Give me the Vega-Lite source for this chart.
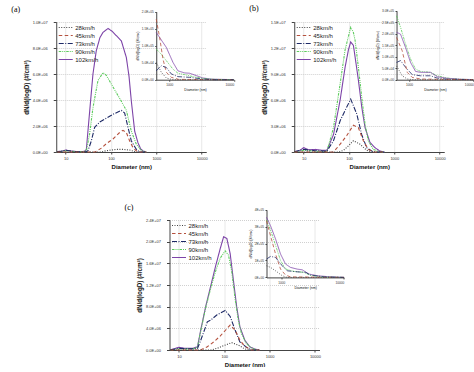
{
"$schema":"https://vega.github.io/schema/vega-lite/v6.json",
"padding":{"left":11,"top":4,"right":0,"bottom":0},
"background":"white",
"config":{"view":{"stroke":null},"axis":{"labelFont":"Liberation Sans","titleFont":"Liberation Sans","labelColor":"#333","titleColor":"#111","domainColor":"#444","tickColor":"#444"},"legend":{"labelFont":"Liberation Sans"}},
"datasets":{
"a_main":[
{"s":"102km/h","d":6.5,"v":30000},{"s":"102km/h","d":8,"v":60000},{"s":"102km/h","d":10,"v":150000},{"s":"102km/h","d":12,"v":100000},{"s":"102km/h","d":15,"v":50000},{"s":"102km/h","d":20,"v":30000},{"s":"102km/h","d":26,"v":50000},{"s":"102km/h","d":28.6,"v":200000},{"s":"102km/h","d":33.8,"v":3100000},{"s":"102km/h","d":40,"v":6000000},{"s":"102km/h","d":47.4,"v":7800000},{"s":"102km/h","d":57,"v":8800000},{"s":"102km/h","d":66.6,"v":9200000},{"s":"102km/h","d":85.9,"v":9500000},{"s":"102km/h","d":105,"v":9300000},{"s":"102km/h","d":131,"v":8950000},{"s":"102km/h","d":169,"v":8550000},{"s":"102km/h","d":218,"v":7270000},{"s":"102km/h","d":250,"v":5800000},{"s":"102km/h","d":281,"v":3900000},{"s":"102km/h","d":333,"v":1600000},{"s":"102km/h","d":394,"v":700000},{"s":"102km/h","d":450,"v":250000},{"s":"102km/h","d":508,"v":80000},{"s":"102km/h","d":600,"v":0},
{"s":"90km/h","d":6.5,"v":20000},{"s":"90km/h","d":10,"v":100000},{"s":"90km/h","d":15,"v":40000},{"s":"90km/h","d":25,"v":20000},{"s":"90km/h","d":28.6,"v":100000},{"s":"90km/h","d":33.8,"v":1400000},{"s":"90km/h","d":40,"v":3400000},{"s":"90km/h","d":51.6,"v":5500000},{"s":"90km/h","d":66.6,"v":6100000},{"s":"90km/h","d":78.8,"v":5900000},{"s":"90km/h","d":110.7,"v":5000000},{"s":"90km/h","d":169,"v":3900000},{"s":"90km/h","d":218,"v":3200000},{"s":"90km/h","d":281,"v":1600000},{"s":"90km/h","d":362,"v":600000},{"s":"90km/h","d":467,"v":100000},{"s":"90km/h","d":600,"v":0},
{"s":"73km/h","d":6.5,"v":30000},{"s":"73km/h","d":8,"v":60000},{"s":"73km/h","d":10,"v":140000},{"s":"73km/h","d":12,"v":100000},{"s":"73km/h","d":15,"v":50000},{"s":"73km/h","d":20,"v":20000},{"s":"73km/h","d":28,"v":20000},{"s":"73km/h","d":31.1,"v":100000},{"s":"73km/h","d":36.8,"v":850000},{"s":"73km/h","d":43.6,"v":1900000},{"s":"73km/h","d":56.3,"v":2300000},{"s":"73km/h","d":78.8,"v":2600000},{"s":"73km/h","d":110.7,"v":2900000},{"s":"73km/h","d":169,"v":3200000},{"s":"73km/h","d":200,"v":3000000},{"s":"73km/h","d":237,"v":1900000},{"s":"73km/h","d":281,"v":850000},{"s":"73km/h","d":362,"v":200000},{"s":"73km/h","d":430,"v":0},{"s":"73km/h","d":600,"v":0},
{"s":"45km/h","d":6.5,"v":0},{"s":"45km/h","d":45,"v":0},{"s":"45km/h","d":61.2,"v":300000},{"s":"45km/h","d":78.8,"v":640000},{"s":"45km/h","d":110.7,"v":1000000},{"s":"45km/h","d":155,"v":1500000},{"s":"45km/h","d":184,"v":1670000},{"s":"45km/h","d":218,"v":1500000},{"s":"45km/h","d":258,"v":850000},{"s":"45km/h","d":306,"v":330000},{"s":"45km/h","d":385,"v":0},{"s":"45km/h","d":600,"v":0},
{"s":"28km/h","d":6.5,"v":0},{"s":"28km/h","d":60,"v":0},{"s":"28km/h","d":78.8,"v":100000},{"s":"28km/h","d":131,"v":200000},{"s":"28km/h","d":184,"v":200000},{"s":"28km/h","d":258,"v":150000},{"s":"28km/h","d":362,"v":0},{"s":"28km/h","d":600,"v":0}
],
"a_inset":[
{"s":"102km/h","d":630,"v":139000},{"s":"102km/h","d":902,"v":95000},{"s":"102km/h","d":1143,"v":51000},{"s":"102km/h","d":1365,"v":26000},{"s":"102km/h","d":1733,"v":20000},{"s":"102km/h","d":2071,"v":19000},{"s":"102km/h","d":2625,"v":12000},{"s":"102km/h","d":3328,"v":5000},{"s":"102km/h","d":4753,"v":1500},{"s":"102km/h","d":9930,"v":200},
{"s":"90km/h","d":630,"v":90000},{"s":"90km/h","d":754,"v":75000},{"s":"90km/h","d":902,"v":56000},{"s":"90km/h","d":1143,"v":31000},{"s":"90km/h","d":1365,"v":19000},{"s":"90km/h","d":1733,"v":15000},{"s":"90km/h","d":2335,"v":9000},{"s":"90km/h","d":3328,"v":4000},{"s":"90km/h","d":5000,"v":1000},{"s":"90km/h","d":9930,"v":0},
{"s":"45km/h","d":630,"v":178000},{"s":"45km/h","d":710,"v":125000},{"s":"45km/h","d":800,"v":61000},{"s":"45km/h","d":902,"v":22000},{"s":"45km/h","d":1076,"v":7000},{"s":"45km/h","d":1400,"v":1000},{"s":"45km/h","d":9930,"v":0},
{"s":"73km/h","d":630,"v":26000},{"s":"73km/h","d":754,"v":41000},{"s":"73km/h","d":902,"v":36000},{"s":"73km/h","d":1076,"v":17000},{"s":"73km/h","d":1365,"v":9000},{"s":"73km/h","d":2071,"v":7000},{"s":"73km/h","d":3000,"v":3000},{"s":"73km/h","d":4700,"v":0},{"s":"73km/h","d":9930,"v":0},
{"s":"28km/h","d":630,"v":51000},{"s":"28km/h","d":754,"v":22000},{"s":"28km/h","d":902,"v":5000},{"s":"28km/h","d":1143,"v":0},{"s":"28km/h","d":9930,"v":0}
],
"b_main":[
{"s":"102km/h","d":6.2,"v":20000},{"s":"102km/h","d":8,"v":150000},{"s":"102km/h","d":10,"v":500000},{"s":"102km/h","d":13,"v":250000},{"s":"102km/h","d":18,"v":300000},{"s":"102km/h","d":25,"v":200000},{"s":"102km/h","d":32.5,"v":200000},{"s":"102km/h","d":45.5,"v":2000000},{"s":"102km/h","d":63.8,"v":6000000},{"s":"102km/h","d":82.1,"v":9800000},{"s":"102km/h","d":97.2,"v":11800000},{"s":"102km/h","d":109,"v":12700000},{"s":"102km/h","d":125,"v":12300000},{"s":"102km/h","d":136,"v":11000000},{"s":"102km/h","d":161,"v":8300000},{"s":"102km/h","d":191,"v":5200000},{"s":"102km/h","d":226,"v":2800000},{"s":"102km/h","d":290,"v":1100000},{"s":"102km/h","d":374,"v":500000},{"s":"102km/h","d":481,"v":100000},{"s":"102km/h","d":600,"v":0},
{"s":"90km/h","d":6.2,"v":10000},{"s":"90km/h","d":10,"v":200000},{"s":"90km/h","d":18,"v":100000},{"s":"90km/h","d":32.5,"v":50000},{"s":"90km/h","d":45.5,"v":2800000},{"s":"90km/h","d":63.8,"v":7900000},{"s":"90km/h","d":82.1,"v":11800000},{"s":"90km/h","d":109,"v":14400000},{"s":"90km/h","d":125,"v":13800000},{"s":"90km/h","d":136,"v":12900000},{"s":"90km/h","d":161,"v":9800000},{"s":"90km/h","d":191,"v":6300000},{"s":"90km/h","d":226,"v":3200000},{"s":"90km/h","d":267,"v":1300000},{"s":"90km/h","d":344,"v":300000},{"s":"90km/h","d":481,"v":0},{"s":"90km/h","d":600,"v":0},
{"s":"73km/h","d":6.2,"v":20000},{"s":"73km/h","d":10,"v":300000},{"s":"73km/h","d":18,"v":150000},{"s":"73km/h","d":32.5,"v":100000},{"s":"73km/h","d":45.5,"v":1300000},{"s":"73km/h","d":63.8,"v":3600000},{"s":"73km/h","d":82.1,"v":4800000},{"s":"73km/h","d":109,"v":6100000},{"s":"73km/h","d":148,"v":4400000},{"s":"73km/h","d":191,"v":2000000},{"s":"73km/h","d":245,"v":500000},{"s":"73km/h","d":344,"v":0},{"s":"73km/h","d":600,"v":0},
{"s":"45km/h","d":6.2,"v":0},{"s":"45km/h","d":45.5,"v":0},{"s":"45km/h","d":63.8,"v":900000},{"s":"45km/h","d":89.3,"v":1900000},{"s":"45km/h","d":125,"v":3100000},{"s":"45km/h","d":161,"v":2800000},{"s":"45km/h","d":207,"v":1300000},{"s":"45km/h","d":267,"v":300000},{"s":"45km/h","d":344,"v":0},{"s":"45km/h","d":600,"v":0},
{"s":"28km/h","d":6.2,"v":0},{"s":"28km/h","d":60,"v":0},{"s":"28km/h","d":75.5,"v":200000},{"s":"28km/h","d":97.2,"v":700000},{"s":"28km/h","d":125,"v":1300000},{"s":"28km/h","d":175,"v":900000},{"s":"28km/h","d":245,"v":200000},{"s":"28km/h","d":316,"v":0},{"s":"28km/h","d":600,"v":0}
],
"b_inset":[
{"s":"90km/h","d":641,"v":278000},{"s":"90km/h","d":740,"v":228000},{"s":"90km/h","d":885,"v":155000},{"s":"90km/h","d":1059,"v":90000},{"s":"90km/h","d":1266,"v":46000},{"s":"90km/h","d":1514,"v":36000},{"s":"90km/h","d":2164,"v":32000},{"s":"90km/h","d":2746,"v":17000},{"s":"90km/h","d":3933,"v":7000},{"s":"90km/h","d":6339,"v":2000},{"s":"90km/h","d":9970,"v":0},
{"s":"102km/h","d":641,"v":206000},{"s":"102km/h","d":740,"v":198000},{"s":"102km/h","d":885,"v":140000},{"s":"102km/h","d":1059,"v":75000},{"s":"102km/h","d":1266,"v":36000},{"s":"102km/h","d":1514,"v":32000},{"s":"102km/h","d":2164,"v":32000},{"s":"102km/h","d":2746,"v":13000},{"s":"102km/h","d":3933,"v":6000},{"s":"102km/h","d":6339,"v":2000},{"s":"102km/h","d":9970,"v":500},
{"s":"73km/h","d":641,"v":75000},{"s":"73km/h","d":740,"v":83000},{"s":"73km/h","d":885,"v":54000},{"s":"73km/h","d":1124,"v":22000},{"s":"73km/h","d":1514,"v":17000},{"s":"73km/h","d":2164,"v":17000},{"s":"73km/h","d":2746,"v":7000},{"s":"73km/h","d":3933,"v":2000},{"s":"73km/h","d":9970,"v":0},
{"s":"45km/h","d":641,"v":184000},{"s":"45km/h","d":785,"v":126000},{"s":"45km/h","d":940,"v":32000},{"s":"45km/h","d":1124,"v":10000},{"s":"45km/h","d":1514,"v":3000},{"s":"45km/h","d":9970,"v":0},
{"s":"28km/h","d":641,"v":60000},{"s":"28km/h","d":785,"v":17000},{"s":"28km/h","d":940,"v":3000},{"s":"28km/h","d":1200,"v":0},{"s":"28km/h","d":9970,"v":0}
],
"c_main":[
{"s":"102km/h","d":6.5,"v":20000},{"s":"102km/h","d":10,"v":500000},{"s":"102km/h","d":13.3,"v":300000},{"s":"102km/h","d":20,"v":300000},{"s":"102km/h","d":25.7,"v":600000},{"s":"102km/h","d":30.3,"v":3700000},{"s":"102km/h","d":38.9,"v":8000000},{"s":"102km/h","d":49.9,"v":11700000},{"s":"102km/h","d":64,"v":15400000},{"s":"102km/h","d":82,"v":18800000},{"s":"102km/h","d":96.8,"v":20900000},{"s":"102km/h","d":114,"v":20600000},{"s":"102km/h","d":135,"v":17800000},{"s":"102km/h","d":159,"v":12900000},{"s":"102km/h","d":188,"v":8000000},{"s":"102km/h","d":221,"v":4300000},{"s":"102km/h","d":284,"v":1800000},{"s":"102km/h","d":364,"v":600000},{"s":"102km/h","d":467,"v":200000},{"s":"102km/h","d":551,"v":0},{"s":"102km/h","d":600,"v":0},
{"s":"90km/h","d":6.5,"v":10000},{"s":"90km/h","d":10,"v":200000},{"s":"90km/h","d":20,"v":200000},{"s":"90km/h","d":25.7,"v":500000},{"s":"90km/h","d":30.3,"v":3500000},{"s":"90km/h","d":38.9,"v":7800000},{"s":"90km/h","d":49.9,"v":11300000},{"s":"90km/h","d":64,"v":14500000},{"s":"90km/h","d":82,"v":17000000},{"s":"90km/h","d":105,"v":18300000},{"s":"90km/h","d":124,"v":17500000},{"s":"90km/h","d":146,"v":14500000},{"s":"90km/h","d":173,"v":9500000},{"s":"90km/h","d":204,"v":5500000},{"s":"90km/h","d":240,"v":3000000},{"s":"90km/h","d":308,"v":1200000},{"s":"90km/h","d":395,"v":400000},{"s":"90km/h","d":507,"v":0},{"s":"90km/h","d":600,"v":0},
{"s":"73km/h","d":6.5,"v":20000},{"s":"73km/h","d":10,"v":300000},{"s":"73km/h","d":20,"v":200000},{"s":"73km/h","d":25.7,"v":300000},{"s":"73km/h","d":30.3,"v":1800000},{"s":"73km/h","d":38.9,"v":4300000},{"s":"73km/h","d":42.3,"v":5200000},{"s":"73km/h","d":49.9,"v":5500000},{"s":"73km/h","d":69.5,"v":6500000},{"s":"73km/h","d":105,"v":7300000},{"s":"73km/h","d":135,"v":6200000},{"s":"73km/h","d":173,"v":3700000},{"s":"73km/h","d":221,"v":1500000},{"s":"73km/h","d":308,"v":500000},{"s":"73km/h","d":395,"v":0},{"s":"73km/h","d":600,"v":0},
{"s":"45km/h","d":6.5,"v":0},{"s":"45km/h","d":30,"v":0},{"s":"45km/h","d":42.3,"v":600000},{"s":"45km/h","d":58.9,"v":1500000},{"s":"45km/h","d":82,"v":2600000},{"s":"45km/h","d":105,"v":3600000},{"s":"45km/h","d":135,"v":4600000},{"s":"45km/h","d":173,"v":3700000},{"s":"45km/h","d":221,"v":1800000},{"s":"45km/h","d":284,"v":700000},{"s":"45km/h","d":395,"v":0},{"s":"45km/h","d":600,"v":0},
{"s":"28km/h","d":6.5,"v":0},{"s":"28km/h","d":50,"v":0},{"s":"28km/h","d":69.5,"v":300000},{"s":"28km/h","d":96.8,"v":800000},{"s":"28km/h","d":146,"v":1350000},{"s":"28km/h","d":204,"v":900000},{"s":"28km/h","d":284,"v":200000},{"s":"28km/h","d":364,"v":0},{"s":"28km/h","d":600,"v":0}
],
"c_inset":[
{"s":"102km/h","d":583,"v":355000},{"s":"102km/h","d":676,"v":305000},{"s":"102km/h","d":813,"v":227000},{"s":"102km/h","d":976,"v":138000},{"s":"102km/h","d":1172,"v":79000},{"s":"102km/h","d":1409,"v":59000},{"s":"102km/h","d":1800,"v":49000},{"s":"102km/h","d":2162,"v":45000},{"s":"102km/h","d":2764,"v":20000},{"s":"102km/h","d":3755,"v":10000},{"s":"102km/h","d":6130,"v":3000},{"s":"102km/h","d":10000,"v":0},
{"s":"90km/h","d":583,"v":340000},{"s":"90km/h","d":676,"v":280000},{"s":"90km/h","d":813,"v":190000},{"s":"90km/h","d":976,"v":100000},{"s":"90km/h","d":1172,"v":50000},{"s":"90km/h","d":1593,"v":35000},{"s":"90km/h","d":2300,"v":30000},{"s":"90km/h","d":2938,"v":12000},{"s":"90km/h","d":4800,"v":2000},{"s":"90km/h","d":10000,"v":0},
{"s":"45km/h","d":583,"v":335000},{"s":"45km/h","d":676,"v":246000},{"s":"45km/h","d":813,"v":138000},{"s":"45km/h","d":976,"v":49000},{"s":"45km/h","d":1172,"v":14000},{"s":"45km/h","d":1409,"v":3000},{"s":"45km/h","d":10000,"v":0},
{"s":"73km/h","d":583,"v":108000},{"s":"73km/h","d":676,"v":124000},{"s":"73km/h","d":813,"v":118000},{"s":"73km/h","d":1038,"v":69000},{"s":"73km/h","d":1247,"v":39000},{"s":"73km/h","d":1800,"v":33000},{"s":"73km/h","d":2445,"v":30000},{"s":"73km/h","d":2938,"v":14000},{"s":"73km/h","d":4800,"v":3000},{"s":"73km/h","d":10000,"v":0},
{"s":"28km/h","d":583,"v":69000},{"s":"28km/h","d":676,"v":59000},{"s":"28km/h","d":813,"v":39000},{"s":"28km/h","d":1038,"v":10000},{"s":"28km/h","d":1247,"v":0},{"s":"28km/h","d":10000,"v":0}
]
},
"center":true,
"spacing":34,
"resolve":{"scale":{"color":"independent","strokeDash":"independent"}},
"vconcat":[
{"hconcat":[
{"title":{"text":"(a)","anchor":"start","frame":"bounds","font":"Liberation Serif","fontSize":8,"fontWeight":"normal","offset":-4,"dx":-12},
"width":150,"height":130,
"encoding":{
"color":{"field":"s","type":"nominal","scale":{"domain":["28km/h","45km/h","73km/h","90km/h","102km/h"],"range":["#444444","#b5513e","#1e2a66","#5dcc5d","#7d44a8"]},"legend":{"title":null,"orient":"none","legendX":5,"legendY":1,"symbolType":"M-2,0H2","symbolSize":49,"symbolStrokeWidth":1.1,"labelFontSize":6,"labelOffset":5,"rowPadding":0,"padding":0,"labelColor":"#222"}},
"strokeDash":{"field":"s","type":"nominal","scale":{"domain":["28km/h","45km/h","73km/h","90km/h","102km/h"],"range":[[1,1.5],[3.5,2.5],[5,1.5,1,1.5],[2.5,1,1,1,1,1],[1,0]]},"legend":{"title":null,"orient":"none","legendX":5,"legendY":1,"symbolType":"M-2,0H2","symbolSize":49,"symbolStrokeWidth":1.1,"labelFontSize":6,"labelOffset":5,"rowPadding":0,"padding":0,"labelColor":"#222"}}},
"layer":[
{"data":{"name":"a_main"},"mark":{"type":"line","strokeWidth":1.1},
"encoding":{
"x":{"field":"d","type":"quantitative","scale":{"type":"log","domain":[6.2,12600],"nice":false},"axis":{"values":[10,100,1000,10000],"format":"d","title":"Diameter (nm)","labelFontSize":4,"titleFontSize":6,"titleFontWeight":"bold","grid":true,"gridDash":[1,1],"gridColor":"#d0d0d0","tickSize":2,"labelPadding":2,"titlePadding":3}},
"y":{"field":"v","type":"quantitative","scale":{"domain":[0,10000000],"nice":false},"axis":{"values":[0,2000000,4000000,6000000,8000000,10000000],"labelExpr":"replace(format(datum.value,'.1e'),'e+','E+0')","title":"dN/d(logD) (#/cm³)","labelFontSize":4,"titleFontSize":6.3,"titleFontWeight":"bold","grid":true,"gridDash":[1,1],"gridColor":"#d0d0d0","tickSize":3,"labelPadding":6,"titlePadding":3}}}},
{"data":{"name":"a_inset"},"mark":{"type":"line","strokeWidth":0.8},
"encoding":{
"x":{"field":"d","type":"quantitative","scale":{"type":"log","domain":[630,10000],"nice":false,"range":[100,177.6]},"axis":{"orient":"bottom","offset":-72.3,"values":[1000,10000],"format":"d","title":"Diameter (nm)","labelFontSize":3.2,"titleFontSize":3.5,"titleFontWeight":"normal","grid":false,"tickSize":1.5,"labelPadding":1,"titlePadding":2}},
"y":{"field":"v","type":"quantitative","scale":{"domain":[0,200000],"nice":false,"range":[57.7,-10.3]},"axis":{"orient":"left","offset":-100,"values":[0,50000,100000,150000,200000],"labelExpr":"replace(format(datum.value,'.1e'),'e+','E+0')","title":"dN/d(logD) (#/cm³)","labelFontSize":3.2,"titleFontSize":3.5,"titleFontWeight":"normal","grid":false,"tickSize":1.5,"labelPadding":1.5,"titlePadding":2}}}}
],
"resolve":{"scale":{"x":"independent","y":"independent"}}},
{"title":{"text":"(b)","anchor":"start","frame":"bounds","font":"Liberation Serif","fontSize":8,"fontWeight":"normal","offset":-4,"dx":-12},
"width":150,"height":130,
"encoding":{
"color":{"field":"s","type":"nominal","scale":{"domain":["28km/h","45km/h","73km/h","90km/h","102km/h"],"range":["#444444","#b5513e","#1e2a66","#5dcc5d","#7d44a8"]},"legend":{"title":null,"orient":"none","legendX":5,"legendY":1,"symbolType":"M-2,0H2","symbolSize":49,"symbolStrokeWidth":1.1,"labelFontSize":6,"labelOffset":5,"rowPadding":0,"padding":0,"labelColor":"#222"}},
"strokeDash":{"field":"s","type":"nominal","scale":{"domain":["28km/h","45km/h","73km/h","90km/h","102km/h"],"range":[[1,1.5],[3.5,2.5],[5,1.5,1,1.5],[2.5,1,1,1,1,1],[1,0]]},"legend":{"title":null,"orient":"none","legendX":5,"legendY":1,"symbolType":"M-2,0H2","symbolSize":49,"symbolStrokeWidth":1.1,"labelFontSize":6,"labelOffset":5,"rowPadding":0,"padding":0,"labelColor":"#222"}}},
"layer":[
{"data":{"name":"b_main"},"mark":{"type":"line","strokeWidth":1.1},
"encoding":{
"x":{"field":"d","type":"quantitative","scale":{"type":"log","domain":[6.2,12600],"nice":false},"axis":{"values":[10,100,1000,10000],"format":"d","title":"Diameter (nm)","labelFontSize":4,"titleFontSize":6,"titleFontWeight":"bold","grid":true,"gridDash":[1,1],"gridColor":"#d0d0d0","tickSize":2,"labelPadding":2,"titlePadding":3}},
"y":{"field":"v","type":"quantitative","scale":{"domain":[0,15000000],"nice":false},"axis":{"values":[0,3000000,6000000,9000000,12000000,15000000],"labelExpr":"replace(format(datum.value,'.1e'),'e+','E+0')","title":"dN/d(logD) (#/cm³)","labelFontSize":4,"titleFontSize":6.3,"titleFontWeight":"bold","grid":true,"gridDash":[1,1],"gridColor":"#d0d0d0","tickSize":3,"labelPadding":6,"titlePadding":3}}}},
{"data":{"name":"b_inset"},"mark":{"type":"line","strokeWidth":0.8},
"encoding":{
"x":{"field":"d","type":"quantitative","scale":{"type":"log","domain":[641,10000],"nice":false,"range":[102.3,179]},"axis":{"orient":"bottom","offset":-72.3,"values":[1000,10000],"format":"d","title":"Diameter (nm)","labelFontSize":3.2,"titleFontSize":3.5,"titleFontWeight":"normal","grid":false,"tickSize":1.5,"labelPadding":1,"titlePadding":2}},
"y":{"field":"v","type":"quantitative","scale":{"domain":[0,300000],"nice":false,"range":[57.7,-11.3]},"axis":{"orient":"left","offset":-102.3,"values":[0,50000,100000,150000,200000,250000,300000],"labelExpr":"replace(format(datum.value,'.1e'),'e+','E+0')","title":"dN/d(logD) (#/cm³)","labelFontSize":3.2,"titleFontSize":3.5,"titleFontWeight":"normal","grid":false,"tickSize":1.5,"labelPadding":1.5,"titlePadding":2}}}}
],
"resolve":{"scale":{"x":"independent","y":"independent"}}}
],
"spacing":12,
"resolve":{"scale":{"color":"independent","strokeDash":"independent"}}},
{"title":{"text":"(c)","anchor":"start","frame":"bounds","font":"Liberation Serif","fontSize":8,"fontWeight":"normal","offset":-4,"dx":-12},
"width":192,"height":130,
"encoding":{
"color":{"field":"s","type":"nominal","scale":{"domain":["28km/h","45km/h","73km/h","90km/h","102km/h"],"range":["#444444","#b5513e","#1e2a66","#5dcc5d","#7d44a8"]},"legend":{"title":null,"orient":"none","legendX":5,"legendY":1,"symbolType":"M-2,0H2","symbolSize":49,"symbolStrokeWidth":1.1,"labelFontSize":6,"labelOffset":5,"rowPadding":0,"padding":0,"labelColor":"#222"}},
"strokeDash":{"field":"s","type":"nominal","scale":{"domain":["28km/h","45km/h","73km/h","90km/h","102km/h"],"range":[[1,1.5],[3.5,2.5],[5,1.5,1,1.5],[2.5,1,1,1,1,1],[1,0]]},"legend":{"title":null,"orient":"none","legendX":5,"legendY":1,"symbolType":"M-2,0H2","symbolSize":49,"symbolStrokeWidth":1.1,"labelFontSize":6,"labelOffset":5,"rowPadding":0,"padding":0,"labelColor":"#222"}}},
"layer":[
{"data":{"name":"c_main"},"mark":{"type":"line","strokeWidth":1.1},
"encoding":{
"x":{"field":"d","type":"quantitative","scale":{"type":"log","domain":[6.2,12600],"nice":false,"range":[0,150]},"axis":{"values":[10,100,1000,10000],"format":"d","title":"Diameter (nm)","labelFontSize":4,"titleFontSize":6,"titleFontWeight":"bold","grid":true,"gridDash":[1,1],"gridColor":"#d0d0d0","tickSize":2,"labelPadding":2,"titlePadding":3}},
"y":{"field":"v","type":"quantitative","scale":{"domain":[0,24000000],"nice":false},"axis":{"values":[0,4000000,8000000,12000000,16000000,20000000,24000000],"labelExpr":"replace(format(datum.value,'.1e'),'e+','E+0')","title":"dN/d(logD) (#/cm³)","labelFontSize":4,"titleFontSize":6.3,"titleFontWeight":"bold","grid":true,"gridDash":[1,1],"gridColor":"#d0d0d0","tickSize":3,"labelPadding":6,"titlePadding":3}}}},
{"data":{"name":"c_inset"},"mark":{"type":"line","strokeWidth":0.8},
"encoding":{
"x":{"field":"d","type":"quantitative","scale":{"type":"log","domain":[583,10000],"nice":false,"range":[97,174.4]},"axis":{"orient":"bottom","offset":-72.6,"values":[1000,10000],"format":"d","title":"Diameter (nm)","labelFontSize":3.2,"titleFontSize":3.5,"titleFontWeight":"normal","grid":false,"tickSize":1.5,"labelPadding":1,"titlePadding":2}},
"y":{"field":"v","type":"quantitative","scale":{"domain":[0,400000],"nice":false,"range":[57.4,-10.3]},"axis":{"orient":"left","offset":-97,"values":[0,100000,200000,300000,400000],"labelExpr":"replace(format(datum.value,'.0e'),'e+','E+0')","title":"dN/d(logD) (#/cm³)","labelFontSize":3.2,"titleFontSize":3.5,"titleFontWeight":"normal","grid":false,"tickSize":1.5,"labelPadding":1.5,"titlePadding":2}}}}
],
"resolve":{"scale":{"x":"independent","y":"independent"}}}
]
}
